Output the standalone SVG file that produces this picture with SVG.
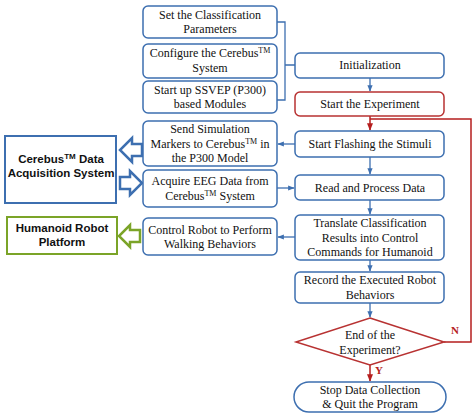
<svg xmlns="http://www.w3.org/2000/svg" width="474" height="419" viewBox="0 0 474 419">
<defs>
<style>
.b{fill:#fff;stroke:#3d6fb0;stroke-width:1.5}
.r{fill:#fff;stroke:#b83232;stroke-width:1.5}
.t{font-family:"Liberation Serif",serif;font-size:12px;fill:#111;text-anchor:middle}
.s{font-family:"Liberation Sans",sans-serif;font-size:11.5px;font-weight:bold;fill:#111;text-anchor:middle}
.sup{font-size:8px}
.cb{fill:none;stroke:#3d6fb0;stroke-width:1.3}
.cr{fill:none;stroke:#b51e1e;stroke-width:1.5}
.lab{font-family:"Liberation Serif",serif;font-size:11px;font-weight:bold;fill:#b51e1e}
</style>
<marker id="ab" viewBox="0 0 10 10" refX="9" refY="5" markerWidth="5" markerHeight="5" orient="auto"><path d="M0,1 L10,5 L0,9 z" fill="#3d6fb0"/></marker>
<marker id="ar" viewBox="0 0 10 10" refX="9" refY="5" markerWidth="5" markerHeight="5" orient="auto"><path d="M0,1 L10,5 L0,9 z" fill="#b51e1e"/></marker>
</defs>
<rect width="474" height="419" fill="#fff"/>

<g id="connectors">
<path class="cb" d="M277,22 H285 V100 H277 M285,65 H295"/>
<path class="cb" d="M370,78 V91" marker-end="url(#ab)"/>
<path class="cb" d="M370,157 V174" marker-end="url(#ab)"/>
<path class="cb" d="M370,200 V214" marker-end="url(#ab)"/>
<path class="cb" d="M370,260 V271" marker-end="url(#ab)"/>
<path class="cb" d="M370,303 V317" marker-end="url(#ab)"/>
<path class="cb" d="M295,144 H278" marker-end="url(#ab)"/>
<path class="cb" d="M277,188 H294" marker-end="url(#ab)"/>
<path class="cb" d="M295,237 H278" marker-end="url(#ab)"/>
<path class="cr" d="M370,116 V130" marker-end="url(#ar)"/>
<path class="cr" d="M444,342 H471 V119 H370"/>
<path class="cr" d="M370,365 V381" marker-end="url(#ar)"/>
<text class="lab" x="455" y="334" text-anchor="middle">N</text>
<text class="lab" x="379" y="374" text-anchor="middle">Y</text>
<path d="M142,144 H132 V138 L120,150 L132,162 V156 H142 Z" fill="#fff" stroke="#3d6fb0" stroke-width="2.5" stroke-linejoin="miter"/>
<path d="M120,177 H130 V171 L142,183 L130,195 V189 H120 Z" fill="#fff" stroke="#3d6fb0" stroke-width="2.5" stroke-linejoin="miter"/>
<path d="M140,230 H130 V225 L119,236 L130,247 V242 H140 Z" fill="#fff" stroke="#7ba428" stroke-width="2.5" stroke-linejoin="miter"/>
</g>

<g id="n1"><rect class="b" x="143" y="6" width="134" height="32" rx="5"/><text class="t" x="210" y="19">Set the Classification</text><text class="t" x="210" y="33">Parameters</text></g>
<g id="n2"><rect class="b" x="143" y="44" width="134" height="34" rx="5"/><text class="t" x="210" y="57">Configure the Cerebus<tspan class="sup" dy="-4">TM</tspan></text><text class="t" x="210" y="72">System</text></g>
<g id="n3"><rect class="b" x="143" y="81" width="134" height="32" rx="5"/><text class="t" x="210" y="94">Start up SSVEP (P300)</text><text class="t" x="210" y="108">based Modules</text></g>
<g id="n4"><rect class="b" x="143" y="121" width="134" height="45" rx="5"/><text class="t" x="210" y="133">Send Simulation</text><text class="t" x="210" y="148">Markers to Cerebus<tspan class="sup" dy="-4">TM</tspan><tspan dy="4"> in</tspan></text><text class="t" x="210" y="162">the P300 Model</text></g>
<g id="n5"><rect class="b" x="143" y="170" width="134" height="37" rx="5"/><text class="t" x="210" y="185">Acquire EEG Data from</text><text class="t" x="210" y="200">Cerebus<tspan class="sup" dy="-4">TM</tspan><tspan dy="4"> System</tspan></text></g>
<g id="n6"><rect class="b" x="143" y="218" width="134" height="37" rx="5"/><text class="t" x="210" y="234">Control Robot to Perform</text><text class="t" x="210" y="248">Walking  Behaviors</text></g>

<g id="cerebus"><rect x="5" y="136" width="111" height="67" fill="#fff" stroke="#3d6fb0" stroke-width="2"/><text class="s" x="61" y="163">Cerebus<tspan font-size="8" dy="-4">TM</tspan><tspan dy="4"> Data</tspan></text><text class="s" x="61" y="177">Acquisition System</text></g>
<g id="humanoid"><rect x="7" y="217" width="110" height="37" fill="#fff" stroke="#7ba428" stroke-width="2"/><text class="s" x="62" y="232">Humanoid Robot</text><text class="s" x="62" y="246">Platform</text></g>

<g id="init"><rect class="b" x="295" y="53" width="149" height="25" rx="5"/><text class="t" x="370" y="69">Initialization</text></g>
<g id="start"><rect class="r" x="295" y="92" width="149" height="24" rx="5"/><text class="t" x="370" y="108">Start the Experiment</text></g>
<g id="flash"><rect class="b" x="295" y="131" width="149" height="26" rx="5"/><text class="t" x="370" y="148">Start Flashing  the Stimuli</text></g>
<g id="read"><rect class="b" x="295" y="175" width="149" height="25" rx="5"/><text class="t" x="370" y="192">Read and Process Data</text></g>
<g id="translate"><rect class="b" x="295" y="215" width="149" height="45" rx="5"/><text class="t" x="370" y="227">Translate Classification</text><text class="t" x="370" y="242">Results into Control</text><text class="t" x="370" y="256">Commands for Humanoid</text></g>
<g id="record"><rect class="b" x="295" y="272" width="149" height="31" rx="5"/><text class="t" x="370" y="284">Record the Executed Robot</text><text class="t" x="370" y="299">Behaviors</text></g>
<g id="end"><path d="M370,318 L444,342 L370,365 L296,342 Z" fill="#fff" stroke="#b83232" stroke-width="1.5"/><text class="t" x="370" y="339">End of the</text><text class="t" x="370" y="354">Experiment?</text></g>
<g id="stop"><rect class="b" x="294" y="382" width="152" height="30" rx="15"/><text class="t" x="370" y="394">Stop Data Collection</text><text class="t" x="370" y="408">&amp; Quit the Program</text></g>
</svg>
